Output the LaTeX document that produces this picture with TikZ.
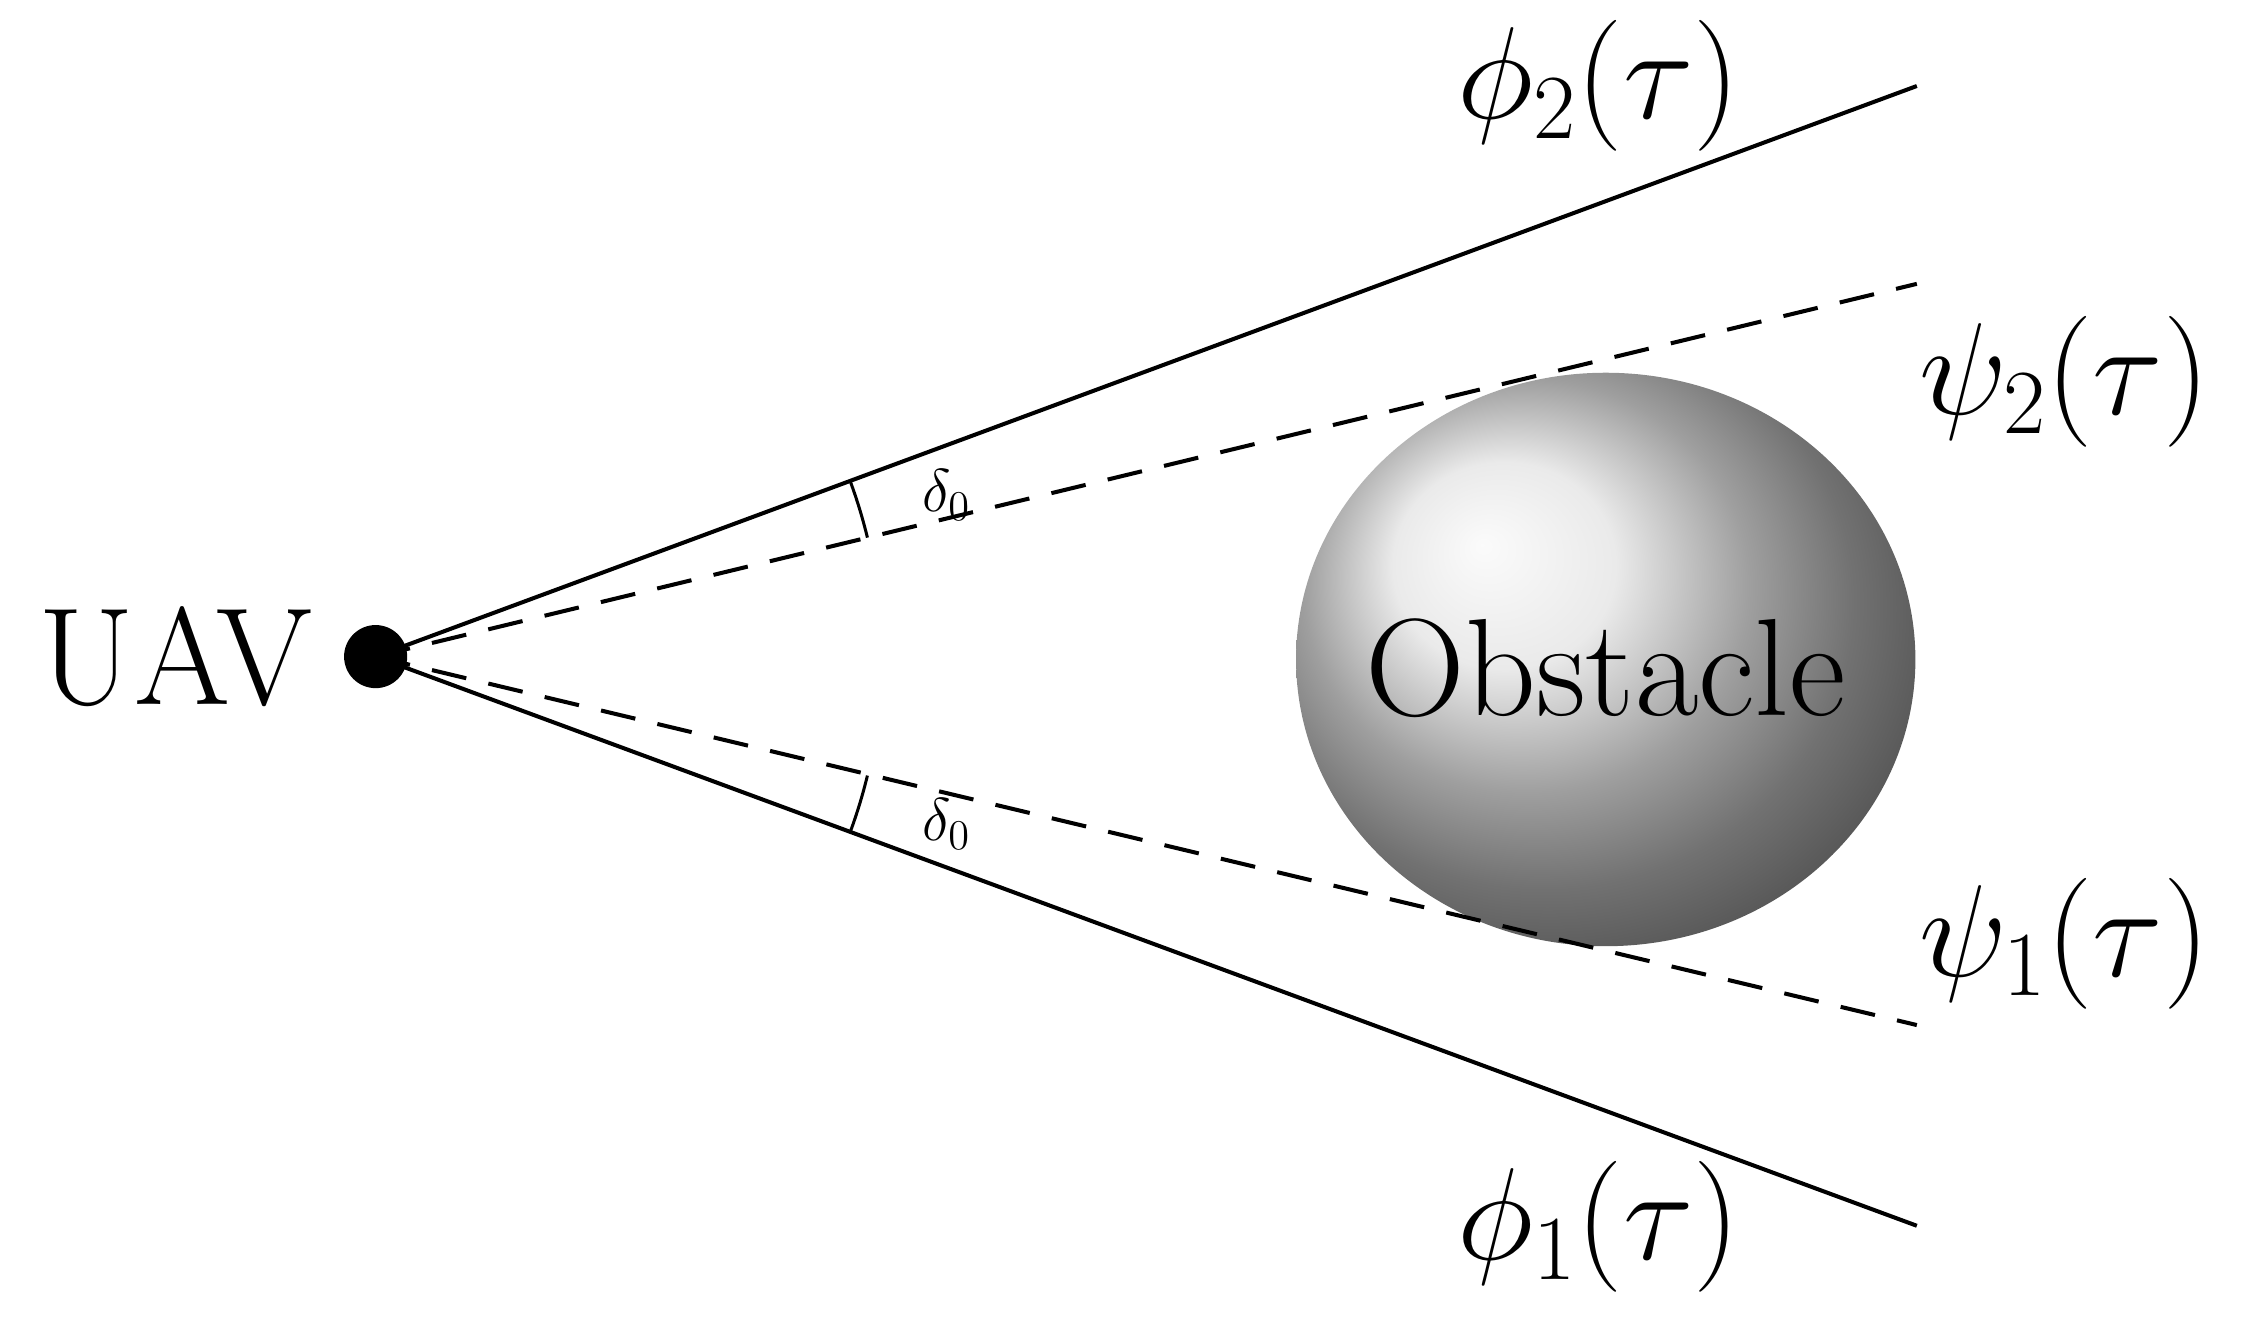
\RequirePackage{fix-cm}
\documentclass[tikz,border=0pt]{standalone}
\usepackage{amsmath}
\usetikzlibrary{shadings}
\begin{document}
\begin{tikzpicture}[x=0.02cm,y=0.02cm,
  ray/.style={line width=1.6pt},
  dray/.style={line width=1.6pt,dash pattern=on 14pt off 9pt},
  big/.style={font=\fontsize{52}{58}\selectfont},
  word/.style={font=\fontsize{55}{60}\selectfont},
  sm/.style={font=\fontsize{24}{28}\selectfont}]
\useasboundingbox (0,0) rectangle (1568,918);
\shade[ball color=gray!22] (1120,458) ellipse [x radius=216, y radius=200];
\node[word] (obs) at (1120,452) {Obstacle};
\coordinate (uav) at (262,460);
\coordinate (p2) at (1337,858);
\coordinate (p1) at (1337,63);
\coordinate (s2) at (1337,720);
\coordinate (s1) at (1337,203);
\draw[ray] (uav) -- (p2);
\draw[ray] (uav) -- (p1);
\draw[dray] (uav) -- (s2);
\draw[dray] (uav) -- (s1);
\fill (uav) circle (22);
\node[word,anchor=east] (ul) at (224,460) {UAV};
\node[big] (l1) at (1115,858) {$\phi_2(\tau)$};
\node[big] (l2) at (1440,652) {$\psi_2(\tau)$};
\node[big] (l3) at (1440,260) {$\psi_1(\tau)$};
\node[big] (l4) at (1115,62) {$\phi_1(\tau)$};
\draw[line width=1.2pt] (uav) ++(13.6:7.06cm) arc[start angle=13.6,end angle=20.3,radius=7.06cm];
\draw[line width=1.2pt] (uav) ++(-13.6:7.06cm) arc[start angle=-13.6,end angle=-20.3,radius=7.06cm];
\node[sm] (d1) at (660,573) {$\delta_0$};
\node[sm] (d2) at (660,343) {$\delta_0$};
\end{tikzpicture}
\end{document}
